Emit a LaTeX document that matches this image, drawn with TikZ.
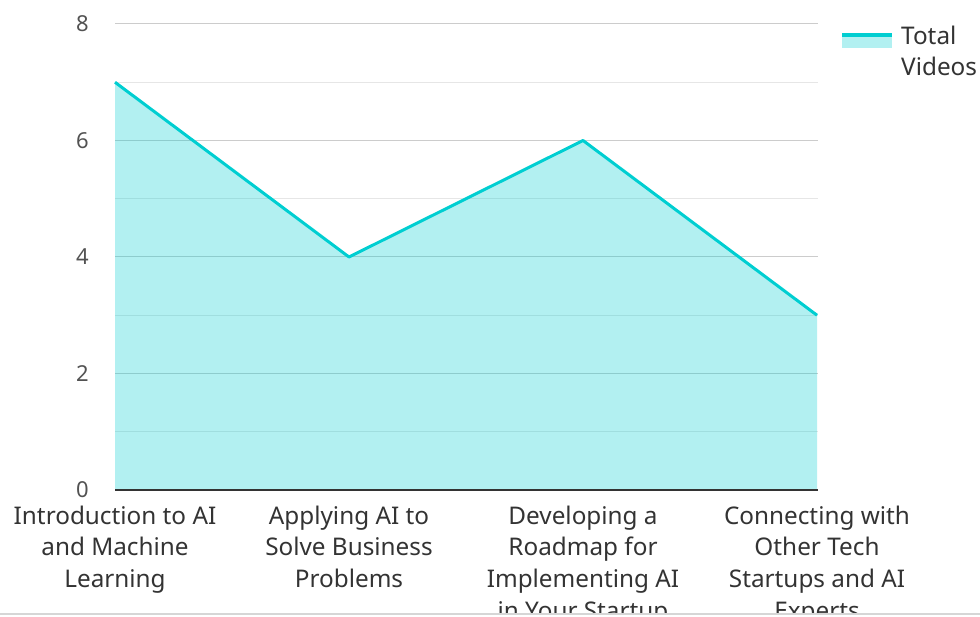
\documentclass[tikz,border=0pt]{standalone}
\usepackage{fontspec}
\setmainfont{Noto Sans}
\usetikzlibrary{positioning}

\definecolor{turq}{HTML}{00CED1}
\definecolor{gridgray}{HTML}{CCCCCC}
\definecolor{gridlight}{HTML}{E6E6E6}
\definecolor{labelgray}{HTML}{333333}
\definecolor{framegray}{HTML}{D6D6D6}
\newcommand\tickfont{\fontsize{22}{26}\selectfont}
\newcommand\chartfont{\fontsize{24.3}{31.6}\selectfont}

\begin{document}
\begin{tikzpicture}[x=1pt,y=-1pt,
    gridmajor/.style={draw=gridgray,line width=1pt},
    gridminor/.style={draw=gridlight,line width=1pt},
    ticklabel/.style={anchor=east,inner sep=0pt,font=\tickfont,text=labelgray!85!white},
    catlabel/.style={anchor=north,align=center,inner sep=0pt,font=\chartfont,text=labelgray},
    series/.style={draw=turq,line width=3pt,line join=round},
    area/.style={fill=turq,fill opacity=0.3},
    axisline/.style={draw=labelgray,line width=2pt}
]
\useasboundingbox (0,0) rectangle (980,617);

% === Grid and y ticks ===
\foreach \v in {0,...,8} {
    \pgfmathsetmacro\yy{490-58.25*\v}
    \ifodd\v
        \draw[gridminor] (115,\yy) -- (818,\yy);
    \else
        \draw[gridmajor] (115,\yy) -- (818,\yy);
        \node[ticklabel] (tick\v) at (89,\yy) {\v};
    \fi
}

% === Data points ===
\coordinate (p1) at (115,82.25);
\coordinate (p2) at (349,257);
\coordinate (p3) at (583,140.5);
\coordinate (p4) at (817,315.25);
\coordinate (b1) at (115,490);
\coordinate (b4) at (817,490);
\coordinate (bend) at (818,490);

% Area under the line
\fill[area] (p1) -- (p2) -- (p3) -- (p4) -- (b4) -- (b1) -- cycle;
\draw[series] (p1) -- (p2) -- (p3) -- (p4);

% Baseline
\draw[axisline] (b1) -- (bend);

% === Category labels (cut off at the bottom) ===
\begin{scope}
    \clip (0,0) rectangle (980,612);
    \node[catlabel] (cat1) at (115,505.6) {Introduction to AI\\and Machine\\Learning};
    \node[catlabel] (cat2) at (349,505.6) {Applying AI to\\Solve Business\\Problems};
    \node[catlabel] (cat3) at (583,505.6) {Developing a\\Roadmap for\\Implementing AI\\in Your Startup};
    \node[catlabel] (cat4) at (817,505.6) {Connecting with\\Other Tech\\Startups and AI\\Experts};
\end{scope}
\draw[framegray,line width=2pt] (0,614) -- (980,614);

% === Legend ===
\fill[area] (842,33) rectangle (892,48);
\draw[turq,line width=4pt] (842,34.7) -- (892,34.7);
\node[catlabel,anchor=north west,align=left] (legend) at (901,25.6) {Total\\Videos};

\end{tikzpicture}
\end{document}
